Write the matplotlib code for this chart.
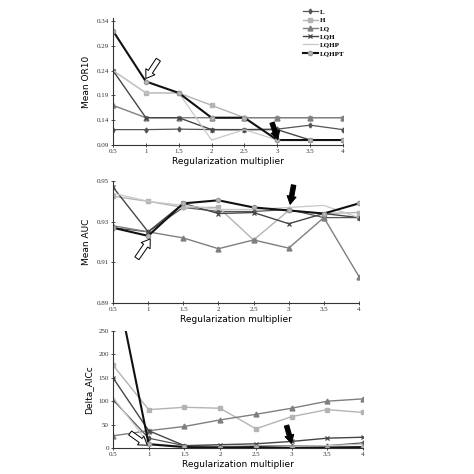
import matplotlib
matplotlib.use("Agg")
import matplotlib.pyplot as plt

reg_mult = [0.5, 1, 1.5, 2, 2.5, 3, 3.5, 4]
x_labels = ["0.5", "1", "1.5", "2", "2.5", "3", "3.5", "4"]
models = ["L", "H", "LQ", "LQH", "LQHP", "LQHPT"]

# Mean OR10
or10_L = [0.121, 0.121, 0.122, 0.121, 0.121, 0.122, 0.130, 0.121]
or10_H = [0.240, 0.195, 0.195, 0.170, 0.145, 0.145, 0.145, 0.145]
or10_LQ = [0.170, 0.145, 0.145, 0.145, 0.145, 0.145, 0.145, 0.145]
or10_LQH = [0.240, 0.145, 0.145, 0.121, 0.121, 0.121, 0.100, 0.100]
or10_LQHP = [0.240, 0.195, 0.195, 0.100, 0.121, 0.100, 0.100, 0.100]
or10_LQHPT = [0.320, 0.218, 0.195, 0.145, 0.145, 0.100, 0.100, 0.100]

# Mean AUC
auc_L = [0.927, 0.925, 0.937, 0.935, 0.935, 0.936, 0.932, 0.932]
auc_H = [0.9425, 0.940, 0.937, 0.937, 0.921, 0.9355, 0.934, 0.9345]
auc_LQ = [0.928, 0.925, 0.922, 0.9167, 0.921, 0.917, 0.932, 0.903]
auc_LQH = [0.947, 0.925, 0.939, 0.934, 0.9345, 0.929, 0.934, 0.932]
auc_LQHP = [0.944, 0.940, 0.938, 0.936, 0.936, 0.937, 0.938, 0.932]
auc_LQHPT = [0.927, 0.923, 0.939, 0.9405, 0.937, 0.9355, 0.934, 0.939]

# Delta AICc
aicc_L = [103, 21, 5, 3, 4, 5, 5, 11]
aicc_H = [177, 82, 87, 85, 41, 67, 82, 76]
aicc_LQ = [26, 37, 46, 60, 72, 85, 100, 105]
aicc_LQH = [150, 37, 5, 7, 9, 14, 21, 23]
aicc_LQHP = [108, 10, 3, 2, 3, 4, 5, 8]
aicc_LQHPT = [385, 8, 2, 1, 2, 0, 1, 2]

# line styles per model
styles = {
    "L": dict(color="#555555", marker="d", ms=2.5, lw=0.9),
    "H": dict(color="#b4b4b4", marker="s", ms=3.5, lw=1.0),
    "LQ": dict(color="#7f7f7f", marker="^", ms=3.5, lw=1.0),
    "LQH": dict(color="#464646", marker="x", ms=3.5, mew=0.9, lw=1.0),
    "LQHP": dict(color="#c8c8c8", marker="", lw=0.9),
    "LQHPT": dict(color="#111111", marker="o", ms=3, mfc="#bbbbbb", mec="#999999", lw=1.5),
}

fig = plt.figure(figsize=(4.74, 4.74), dpi=100)
W = 474.0

def make_axes(left, top, right, bottom):
    return fig.add_axes([left / W, 1 - bottom / W, (right - left) / W, (bottom - top) / W])

ax1 = make_axes(113, 18.5, 343, 145)
ax2 = make_axes(113, 181, 359, 303)
ax3 = make_axes(113, 331, 363, 448)

panels = [
    (ax1, [or10_L, or10_H, or10_LQ, or10_LQH, or10_LQHP, or10_LQHPT], "Mean OR10",
     (0.09, 0.345), [0.09, 0.14, 0.19, 0.24, 0.29, 0.34], ["0.09", "0.14", "0.19", "0.24", "0.29", "0.34"]),
    (ax2, [auc_L, auc_H, auc_LQ, auc_LQH, auc_LQHP, auc_LQHPT], "Mean AUC",
     (0.89, 0.95), [0.89, 0.91, 0.93, 0.95], ["0.89", "0.91", "0.93", "0.95"]),
    (ax3, [aicc_L, aicc_H, aicc_LQ, aicc_LQH, aicc_LQHP, aicc_LQHPT], "Delta_AICc",
     (0, 250), [0, 50, 100, 150, 200, 250], ["0", "50", "100", "150", "200", "250"]),
]

handles = []
for ax, series, ylab, ylim, yticks, ylabels in panels:
    for name, vals in zip(models, series):
        ln, = ax.plot(reg_mult, vals, label=name, clip_on=True, **styles[name])
        if ax is ax1:
            handles.append(ln)
    ax.set_xlim(0.5, 4)
    ax.set_ylim(*ylim)
    ax.set_xticks(reg_mult)
    ax.set_xticklabels(x_labels, fontsize=5, family="Liberation Serif")
    ax.set_yticks(yticks)
    ax.set_yticklabels(ylabels, fontsize=5, family="Liberation Serif")
    ax.set_ylabel(ylab, fontsize=6.5, labelpad=4)
    ax.set_xlabel("Regularization multiplier", fontsize=6.5, labelpad=2)
    ax.spines["top"].set_visible(False)
    ax.spines["right"].set_visible(False)
    for s in ("left", "bottom"):
        ax.spines[s].set_linewidth(0.8)
        ax.spines[s].set_color("#333333")
    ax.tick_params(direction="inout", length=3, width=0.6, pad=1.5, colors="#333333")

# arrows (hollow = selected by AICc, black = selected by other criterion)
hollow = dict(arrowstyle="simple,head_width=1.2,head_length=0.9,tail_width=0.55",
              fc="white", ec="black", lw=0.7, mutation_scale=6.5, shrinkA=0, shrinkB=0)
solid = dict(arrowstyle="simple,head_width=1.0,head_length=0.9,tail_width=0.5",
             fc="black", ec="black", lw=0.7, mutation_scale=6.5, shrinkA=0, shrinkB=0)
ax1.annotate("", xy=(1.0, 0.224), xytext=(1.19, 0.262), arrowprops=hollow)
ax1.annotate("", xy=(3.01, 0.101), xytext=(2.92, 0.135), arrowprops=solid)
ax2.annotate("", xy=(1.03, 0.9215), xytext=(0.84, 0.912), arrowprops=hollow)
ax2.annotate("", xy=(3.02, 0.9385), xytext=(3.07, 0.948), arrowprops=solid)
ax3.annotate("", xy=(0.98, 6), xytext=(0.74, 32), arrowprops=hollow)
ax3.annotate("", xy=(3.0, 10), xytext=(2.93, 48), arrowprops=solid)

leg = fig.legend(handles=handles, loc="upper left", bbox_to_anchor=(300 / W, 1 - 6 / W),
                 frameon=False, fontsize=5, handlelength=2.2, labelspacing=0.35,
                 handletextpad=0.3, borderaxespad=0)
for t in leg.get_texts():
    t.set_family("Liberation Serif")
    t.set_fontweight("bold")

fig.savefig("out.png", dpi=100)
